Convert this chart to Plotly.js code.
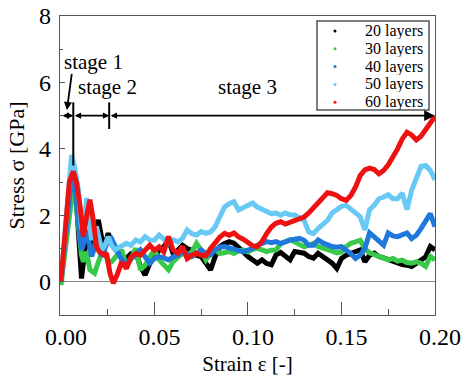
<!DOCTYPE html>
<html>
<head>
<meta charset="utf-8">
<script src="https://cdn.plot.ly/plotly-3.0.1.min.js"></script>
<style>
  html, body { margin: 0; padding: 0; background: #fff; }
  #chart { width: 474px; height: 381px; }
</style>
</head>
<body>
<div id="chart"></div>
<script>
// Stress-strain response of stacked layers, per layer count.
const seriesNames = ['20 layers', '30 layers', '40 layers', '50 layers', '60 layers'];
const seriesColors = ['#000000', '#38c94a', '#1f78dc', '#68c9f4', '#ee1111'];

const strain20 = [0, 0.002, 0.004, 0.006, 0.0075, 0.0093, 0.011, 0.0128, 0.0146, 0.0164, 0.018, 0.02, 0.0213, 0.0226, 0.024, 0.0253, 0.027, 0.028,
  0.030, 0.0325, 0.035, 0.0375, 0.040, 0.0425, 0.045, 0.0475, 0.050, 0.0525, 0.055, 0.0575, 0.060, 0.0625, 0.065, 0.0675, 0.070, 0.0725, 0.075, 0.0775,
  0.080, 0.0825, 0.085, 0.0875, 0.090, 0.0925, 0.095, 0.0975, 0.100, 0.1025, 0.105, 0.1075, 0.110, 0.1125, 0.115, 0.1175, 0.120, 0.1225, 0.125, 0.1275,
  0.130, 0.1325, 0.135, 0.1375, 0.140, 0.1425, 0.145, 0.1475, 0.150, 0.1525, 0.155, 0.1575, 0.160, 0.1625, 0.165, 0.1675, 0.170, 0.1725, 0.175, 0.1775,
  0.180, 0.1825, 0.185, 0.1875, 0.190, 0.1925, 0.195, 0.1975, 0.200];
const stress20 = [0, 1.1, 2.3, 3.3, 3.07, 1.66, 0.1, 0.96, 1.46, 0.96, 1.5, 1.86, 1.5, 1.06, 1.2, 1.46, 1.2, 1.06,
  0.96, 0.75, 0.7, 0.85, 0.9, 0.46, 0.2, 0.55, 0.76, 0.95, 1.05, 1.26, 0.85, 0.95, 1.1, 1.0, 0.95, 0.8, 0.76, 0.55,
  0.36, 0.76, 1.06, 1.15, 1.21, 1.16, 1.05, 0.9, 0.76, 0.65, 0.56, 0.66, 0.55, 0.51, 0.81, 0.88, 0.75, 0.66, 0.91, 0.88,
  0.86, 0.76, 0.71, 0.86, 0.76, 0.7, 0.56, 0.4, 0.7, 0.8, 0.86, 0.9, 0.96, 0.6, 0.8, 0.86, 0.76, 0.72, 0.66, 0.6,
  0.56, 0.52, 0.5, 0.46, 0.55, 0.66, 0.75, 1.06, 0.96];

const strain30 = [0, 0.002, 0.0039, 0.0055, 0.0068, 0.008, 0.0095, 0.011, 0.012, 0.0137, 0.0155, 0.018, 0.02, 0.0218, 0.0235, 0.0253, 0.027, 0.0289,
  0.030, 0.0325, 0.035, 0.0375, 0.040, 0.0425, 0.045, 0.0475, 0.050, 0.0525, 0.055, 0.0575, 0.060, 0.0625, 0.065, 0.0675, 0.070, 0.0725, 0.075, 0.0775,
  0.080, 0.0825, 0.085, 0.0875, 0.090, 0.0925, 0.095, 0.0975, 0.100, 0.1025, 0.105, 0.1075, 0.110, 0.1125, 0.115, 0.1175, 0.120, 0.1225, 0.125, 0.1275,
  0.130, 0.1325, 0.135, 0.1375, 0.140, 0.1425, 0.145, 0.1475, 0.150, 0.1525, 0.155, 0.1575, 0.160, 0.1625, 0.165, 0.1675, 0.170, 0.1725, 0.175, 0.1775,
  0.180, 0.1825, 0.185, 0.1875, 0.190, 0.1925, 0.195, 0.1975, 0.200];
const stress30 = [-0.1, 0.9, 1.76, 2.5, 3.0, 2.4, 1.5, 0.8, 0.6, 0.9, 0.36, 0.26, 0.6, 0.86, 0.9, 0.56, 0.6, 0.76,
  0.8, 0.96, 0.46, 0.7, 1.01, 0.36, 0.5, 0.75, 0.96, 0.66, 0.5, 0.36, 0.61, 0.75, 0.86, 0.76, 0.9, 1.16, 0.95, 0.66,
  0.85, 0.96, 0.85, 0.88, 0.91, 0.85, 0.93, 0.96, 0.9, 0.98, 1.01, 0.96, 0.91, 0.95, 0.96, 1.15, 1.21, 1.26, 1.2, 1.11,
  1.05, 1.1, 1.16, 1.06, 1.0, 0.96, 0.92, 0.87, 0.9, 1.06, 1.16, 1.2, 1.25, 1.0, 0.87, 0.82, 0.76, 0.72, 0.66, 0.7,
  0.62, 0.65, 0.58, 0.56, 0.6, 0.56, 0.46, 0.76, 0.66];

const strain40 = [0, 0.002, 0.004, 0.006, 0.0075, 0.0093, 0.011, 0.0125, 0.0137, 0.015, 0.0164, 0.0178, 0.019, 0.0205, 0.0218, 0.0235, 0.0253, 0.027, 0.0289,
  0.030, 0.0325, 0.035, 0.0375, 0.040, 0.0425, 0.045, 0.0475, 0.050, 0.0525, 0.055, 0.0575, 0.060, 0.0625, 0.065, 0.0675, 0.070, 0.0725, 0.075, 0.0775,
  0.080, 0.0825, 0.085, 0.0875, 0.090, 0.0925, 0.095, 0.0975, 0.100, 0.1025, 0.105, 0.1075, 0.110, 0.1125, 0.115, 0.1175, 0.120, 0.1225, 0.125, 0.1275,
  0.130, 0.1325, 0.135, 0.1375, 0.140, 0.1425, 0.145, 0.1475, 0.150, 0.1525, 0.155, 0.1575, 0.160, 0.1625, 0.165, 0.1675, 0.170, 0.1725, 0.175, 0.1775,
  0.180, 0.1825, 0.185, 0.1875, 0.190, 0.1925, 0.195, 0.1975, 0.200];
const stress40 = [0, 1.2, 2.4, 3.3, 2.8, 1.8, 0.96, 1.2, 1.56, 1.2, 0.76, 1.0, 1.36, 1.0, 0.76, 1.0, 1.26, 1.3, 1.06,
  1.0, 0.66, 0.56, 0.7, 0.85, 0.96, 0.75, 0.56, 0.7, 0.76, 0.72, 0.66, 0.75, 0.8, 0.91, 0.85, 0.76, 0.85, 0.96, 0.85,
  0.81, 0.96, 1.05, 1.06, 1.02, 1.0, 0.95, 0.9, 0.95, 1.0, 1.1, 1.15, 1.21, 1.18, 1.21, 1.15, 1.22, 1.26, 1.28, 1.31,
  1.25, 1.1, 1.1, 1.26, 1.17, 1.1, 1.06, 1.04, 1.06, 0.95, 0.85, 0.7, 0.8, 1.0, 1.47, 1.35, 1.2, 1.1, 1.47, 1.38,
  1.36, 1.42, 1.47, 1.3, 1.4, 1.6, 1.85, 2.05, 1.66];

const strain50 = [0, 0.002, 0.004, 0.0057, 0.0075, 0.0093, 0.011, 0.0125, 0.0137, 0.015, 0.0164, 0.019, 0.0205, 0.0218, 0.0235, 0.0253, 0.027, 0.0289,
  0.030, 0.0325, 0.035, 0.0375, 0.040, 0.0425, 0.045, 0.0475, 0.050, 0.0525, 0.055, 0.0575, 0.060, 0.0625, 0.065, 0.0675, 0.070, 0.0725, 0.075, 0.0775,
  0.080, 0.0825, 0.085, 0.0875, 0.090, 0.0925, 0.095, 0.0975, 0.100, 0.1025, 0.105, 0.1075, 0.110, 0.1125, 0.115, 0.1175, 0.120, 0.1225, 0.125, 0.1275,
  0.130, 0.1325, 0.135, 0.1375, 0.140, 0.1425, 0.145, 0.1475, 0.150, 0.1525, 0.155, 0.1575, 0.160, 0.1625, 0.165, 0.1675, 0.170, 0.1725, 0.175, 0.1775,
  0.180, 0.1825, 0.185, 0.1875, 0.190, 0.1925, 0.195, 0.1975, 0.200];
const stress50 = [0, 1.4, 2.8, 3.82, 3.4, 2.77, 1.6, 1.7, 2.52, 2.0, 1.26, 1.66, 1.2, 0.96, 1.1, 1.36, 1.1, 0.96,
  1.0, 1.06, 1.16, 1.1, 1.26, 1.2, 1.36, 1.26, 1.25, 1.41, 1.3, 1.16, 1.26, 1.2, 1.31, 1.56, 1.45, 1.41, 1.51, 1.46,
  1.5, 1.66, 1.96, 2.25, 2.35, 2.41, 2.16, 2.22, 2.3, 2.37, 2.25, 2.18, 2.1, 2.05, 2.07, 2.0, 2.07, 2.02, 2.01, 1.95,
  1.85, 1.5, 1.45, 1.6, 1.72, 1.85, 2.07, 2.15, 2.27, 2.3, 2.2, 2.1, 1.96, 1.56, 2.17, 2.3, 2.5, 2.55, 2.62, 2.5,
  2.5, 2.67, 2.17, 2.75, 3.1, 3.47, 3.5, 3.35, 3.07];

const strain60 = [0, 0.0015, 0.003, 0.0045, 0.0066, 0.0084, 0.0102, 0.012, 0.0137, 0.0155, 0.0173, 0.019, 0.0205, 0.0218, 0.0232, 0.0244, 0.0262, 0.028,
  0.030, 0.0325, 0.035, 0.0375, 0.040, 0.0425, 0.045, 0.0475, 0.050, 0.0525, 0.055, 0.0575, 0.060, 0.0625, 0.065, 0.0675, 0.070, 0.0725, 0.075, 0.0775,
  0.080, 0.0825, 0.085, 0.0875, 0.090, 0.0925, 0.095, 0.0975, 0.100, 0.1025, 0.105, 0.1075, 0.110, 0.1125, 0.115, 0.1175, 0.120, 0.1225, 0.125, 0.1275,
  0.130, 0.1325, 0.135, 0.1375, 0.140, 0.1425, 0.145, 0.1475, 0.150, 0.1525, 0.155, 0.1575, 0.160, 0.1625, 0.165, 0.1675, 0.170, 0.1725, 0.175, 0.1775,
  0.180, 0.1825, 0.185, 0.1875, 0.190, 0.1925, 0.195, 0.1975, 0.200];
const stress60 = [0, 1.1, 2.27, 3.0, 3.32, 2.97, 2.27, 1.36, 1.96, 2.47, 1.86, 1.06, 0.9, 0.86, 0.8, 0.86, 0.26, -0.04,
  0.2, 0.6, 0.4, 0.75, 0.85, 0.8, 0.95, 1.1, 0.95, 1.05, 0.9, 1.36, 0.95, 0.86, 1.06, 0.7, 0.8, 0.86, 0.8, 0.78,
  1.0, 1.2, 1.35, 1.46, 1.4, 1.47, 1.35, 1.28, 1.16, 1.08, 1.06, 1.21, 1.45, 1.65, 1.76, 1.81, 1.74, 1.8, 1.86, 1.88,
  1.95, 2.07, 2.22, 2.37, 2.55, 2.68, 2.65, 2.6, 2.5, 2.45, 2.6, 2.85, 3.2, 3.37, 3.42, 3.38, 3.25, 3.35, 3.52, 3.75,
  4.0, 4.3, 4.5, 4.42, 4.27, 4.38, 4.57, 4.75, 4.98];

const strainSets = [strain20, strain30, strain40, strain50, strain60];
const stressSets = [stress20, stress30, stress40, stress50, stress60];

// Stage boundaries on the strain axis and the stress level of the stage bar
const stageLabels = ['stage 1', 'stage 2', 'stage 3'];
const stageBounds = [0, 0.0066, 0.0258, 0.2];
const stageBarStress = 5.0;

const serif = 'Liberation Serif';

const traces = strainSets.map((xs, i) => ({
  type: 'scatter',
  mode: 'lines',
  x: xs,
  y: stressSets[i],
  name: seriesNames[i],
  line: { color: seriesColors[i], width: 5 },
  showlegend: false,
  hoverinfo: 'skip'
}));

// Plot frame in pixels, used to place the hand-drawn legend box and labels
const L = 60, T = 16, W = 375, H = 299;
const px = v => (v - L) / W;
const py = v => (T + H - v) / H;

const shapes = [];
const annotations = [];

// Vertical separators of the stage bar
shapes.push({ type: 'line', xref: 'x', yref: 'y', x0: stageBounds[1], x1: stageBounds[1], y0: 5.4, y1: 3.5,
  line: { color: '#000', width: 2 } });
shapes.push({ type: 'line', xref: 'x', yref: 'y', x0: stageBounds[2], x1: stageBounds[2], y0: 5.4, y1: 4.6,
  line: { color: '#000', width: 2 } });

// Double-headed stage arrows
for (let s = 0; s < 3; s++) {
  const last = s === 2;
  annotations.push({
    xref: 'x', yref: 'y', axref: 'x', ayref: 'y',
    x: stageBounds[s + 1], y: stageBarStress, ax: stageBounds[s], ay: stageBarStress,
    text: '', showarrow: true, arrowside: 'end+start',
    arrowhead: 2, startarrowhead: 2,
    arrowsize: last ? 1.2 : 0.7, startarrowsize: 0.7,
    arrowwidth: 1.8, arrowcolor: '#000', standoff: 0, startstandoff: 0
  });
}

// Stage names
const stageLabelPos = [[93, 62], [107.5, 87], [247, 87]];
stageLabels.forEach((label, i) => {
  annotations.push({ xref: 'paper', yref: 'paper', x: px(stageLabelPos[i][0]), y: py(stageLabelPos[i][1]),
    xanchor: 'center', yanchor: 'middle', text: label, showarrow: false,
    font: { family: serif, size: 21, color: '#000' } });
});

// Pointer from the "stage 1" label down to its short segment
annotations.push({
  xref: 'x', yref: 'y', axref: 'x', ayref: 'y',
  x: 0.0032, y: 5.17, ax: 0.0059, ay: 6.3,
  text: '', showarrow: true, arrowhead: 2, arrowsize: 0.9, arrowwidth: 1.8, arrowcolor: '#000', standoff: 0
});

// Legend box with dot markers
shapes.push({ type: 'rect', xref: 'paper', yref: 'paper', x0: px(317), x1: px(429), y0: py(110), y1: py(21),
  line: { color: '#555', width: 1.5 }, fillcolor: 'rgba(255,255,255,1)', layer: 'above' });
const rowY = [31, 48.8, 66.6, 84.4, 102.2];
seriesNames.forEach((name, i) => {
  const cy = rowY[i];
  shapes.push({ type: 'circle', xref: 'paper', yref: 'paper',
    x0: px(333.5), x1: px(336.5), y0: py(cy + 1.5), y1: py(cy - 1.5),
    fillcolor: seriesColors[i], line: { width: 0 }, layer: 'above' });
  annotations.push({ xref: 'paper', yref: 'paper', x: px(424), y: py(cy), xanchor: 'right', yanchor: 'middle',
    height: 16, borderpad: 0, valign: 'middle',
    text: name, showarrow: false, font: { family: serif, size: 16, color: '#000' } });
});

const layout = {
  width: 474, height: 381,
  margin: { l: L, r: 474 - L - W, t: T, b: 381 - T - H, pad: 0 },
  paper_bgcolor: '#fff', plot_bgcolor: '#fff',
  showlegend: false,
  font: { family: serif, color: '#000' },
  xaxis: {
    range: [-0.0005, 0.2],
    tickvals: [0, 0.05, 0.1, 0.15, 0.2],
    ticktext: ['0.00', '0.05', '0.10', '0.15', '0.20'],
    ticks: 'inside', ticklen: 13, tickwidth: 1, tickcolor: '#555',
    minor: { tickvals: [0.025, 0.075, 0.125, 0.175], ticks: 'inside', ticklen: 6, tickcolor: '#555', tickwidth: 1, showgrid: false },
    tickfont: { family: serif, size: 24, color: '#000' },
    ticklabelshift: 5, ticklabelstandoff: 0,
    showgrid: false, zeroline: false,
    showline: true, linecolor: '#555', linewidth: 1.2, mirror: true,
    title: { text: 'Strain ε [-]', font: { family: serif, size: 21, color: '#000' }, standoff: 7 }
  },
  yaxis: {
    range: [-1, 8],
    tickvals: [0, 2, 4, 6, 8],
    ticks: 'inside', ticklen: 5, tickwidth: 1, tickcolor: '#555',
    minor: { tickvals: [-1, 1, 3, 5, 7], ticks: 'inside', ticklen: 3, tickcolor: '#555', tickwidth: 1, showgrid: false },
    tickfont: { family: serif, size: 24, color: '#000' },
    ticklabelstandoff: 3,
    showgrid: false,
    zeroline: true, zerolinecolor: '#888', zerolinewidth: 1,
    showline: true, linecolor: '#555', linewidth: 1.2, mirror: true,
    title: { text: 'Stress σ [GPa]', font: { family: serif, size: 22, color: '#000' }, standoff: 8 }
  },
  shapes: shapes,
  annotations: annotations
};

Plotly.newPlot('chart', traces, layout, { displayModeBar: false, staticPlot: true });
</script>
</body>
</html>
